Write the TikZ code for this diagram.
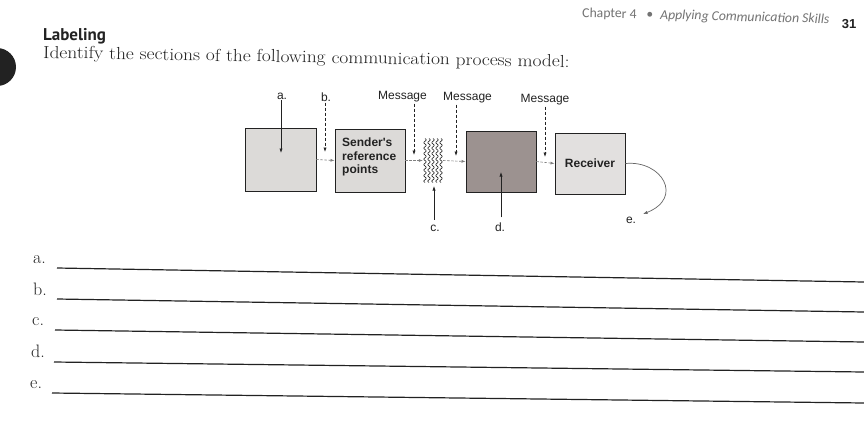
\documentclass[tikz,border=0pt]{standalone}
\usepackage{fontspec}
\usetikzlibrary{arrows.meta}
\newfontfamily\diagfont{Liberation Sans}
\newfontfamily\headfont{Carlito}
\newfontfamily\labfont{PT Sans}
\definecolor{ink}{HTML}{222222}
\definecolor{lightbox}{HTML}{DCDAD8}
\definecolor{darkbox}{HTML}{9C9290}
\definecolor{recbox}{HTML}{E2E0DF}
\begin{document}
\begin{tikzpicture}[x=1pt,y=-1pt,
  box/.style={draw=ink, line width=0.9pt, minimum width=70pt, minimum height=62pt, inner sep=0pt},
  arr/.style={draw=ink, line width=0.7pt, -{Latex[length=4.5pt,width=3.2pt]}},
  darr/.style={arr, dash pattern=on 3pt off 2pt},
  harr/.style={draw=black!50, line width=0.6pt, dash pattern=on 2.5pt off 1.5pt, -{Latex[length=4pt,width=3pt]}},
  lbl/.style={text=ink, font=\diagfont\fontsize{12}{14}\selectfont, inner sep=1pt},
  boxtext/.style={text=ink, font=\diagfont\bfseries\fontsize{12}{13.5}\selectfont},
  anslbl/.style={text=ink, font=\fontsize{18}{20}\selectfont, anchor=base west, inner sep=0pt},
  ansline/.style={draw=ink, line width=1.2pt}
]
\useasboundingbox (0,0) rectangle (864,426);
\fill[white] (0,0) rectangle (864,426);

% punch hole
\fill[ink] (-3,67) circle (19);

% header
\node[anchor=base west, inner sep=0pt, text=black!55, rotate=-1.5,
      font=\headfont\fontsize{13.7}{15}\selectfont] (head) at (582,17)
      {Chapter 4 \enspace\textbullet\enspace \itshape Applying Communication Skills};
\node[anchor=base, inner sep=0pt, text=ink, font=\diagfont\bfseries\fontsize{13}{15}\selectfont] (page) at (849,28) {31};

% title
\node[anchor=base west, inner sep=0pt, text=ink, font=\labfont\bfseries\fontsize{17}{20}\selectfont] (title) at (43,40) {Labeling};
\node[anchor=base west, inner sep=0pt, text=ink, rotate=-1, font=\fontsize{17.5}{20}\selectfont] (instr) at (43,58)
  {\scalebox{1.11}[1]{Identify the sections of the following communication process model:}};

% boxes
\node[box, fill=lightbox, minimum width=71pt, minimum height=63pt] (b1) at (280.5,159.5) {};
\node[box, fill=lightbox, minimum height=63pt] (b2) at (370,160.5) {};
\node[boxtext, anchor=west, align=left, inner sep=0pt] (b2t) at (342,157) {Sender's\\reference\\points};
\node[box, fill=darkbox, minimum height=61pt] (b3) at (501,161.5) {};
\node[box, fill=recbox, minimum height=61pt, boxtext] (b4) at (590,163.5) {Receiver};

% wave (noise)
\node[minimum width=20pt, minimum height=45pt, inner sep=0pt] (wave) at (433,160.5) {};
\foreach \i in {0,...,4}{
  \draw[ink, line width=0.6pt] plot[domain=0:44, samples=70, smooth]
    ({425+4*\i+1.2*sin(\x*65.45)}, {138.5+\x});
}

% top labels
\node[lbl] (la) at (282,96) {a.};
\node[lbl] (lb) at (326,97) {b.};
\node[lbl] (m1) at (402.5,97) {Message};
\node[lbl] (m2) at (467.5,98) {Message};
\node[lbl] (m3) at (545,100) {Message};
% bottom labels
\node[lbl] (lc) at (435,228) {c.};
\node[lbl] (ld) at (500,227) {d.};
\node[lbl] (le) at (631,220) {e.};

% tip coordinates
\coordinate (atip) at (281,153);
\coordinate (btip) at (325,152);
\coordinate (m1tip) at (414,155);
\coordinate (m2tip) at (456,156);
\coordinate (m3tip) at (545,157);
\coordinate (ctip) at (434,186);
\coordinate (dtip) at (501,172);
\coordinate (etip) at (643,214);

% vertical arrows
\draw[arr] (la.south -| atip) -- (atip);
\draw[darr] (lb.south -| btip) -- (btip);
\draw[darr] (m1.south -| m1tip) -- (m1tip);
\draw[darr] (m2.south -| m2tip) -- (m2tip);
\draw[darr] (m3.south -| m3tip) -- (m3tip);
\draw[arr] (lc.north -| ctip) ++(0,-4) -- (ctip);
\draw[arr] (ld.north -| dtip) ++(0,-4) -- (dtip);

% horizontal flow arrows
\draw[harr] (b1.east) -- (b2.west);
\draw[harr] (b2.east) -- (wave.west);
\draw[harr] (wave.east) -- (b3.west);
\draw[harr] (b3.east) -- (b4.west);

% feedback curve
\draw[draw=black!60, line width=0.7pt, -{Latex[length=4.5pt,width=3.2pt]}]
  (b4.east) .. controls (662,160) and (684,198) .. (etip);

% answer lines
\node[anslbl] (aa) at (33,263) {a.};
\node[anslbl] (ab) at (33,295) {b.};
\node[anslbl] (ac) at (32,325) {c.};
\node[anslbl] (ad) at (31,357) {d.};
\node[anslbl] (ae) at (30,388) {e.};
\draw[ansline] (57,268) -- (864,282);
\draw[ansline] (57,299) -- (864,312);
\draw[ansline] (55,330) -- (864,342);
\draw[ansline] (54,362) -- (864,372);
\draw[ansline] (52,393) -- (864,403);
\end{tikzpicture}
\end{document}
